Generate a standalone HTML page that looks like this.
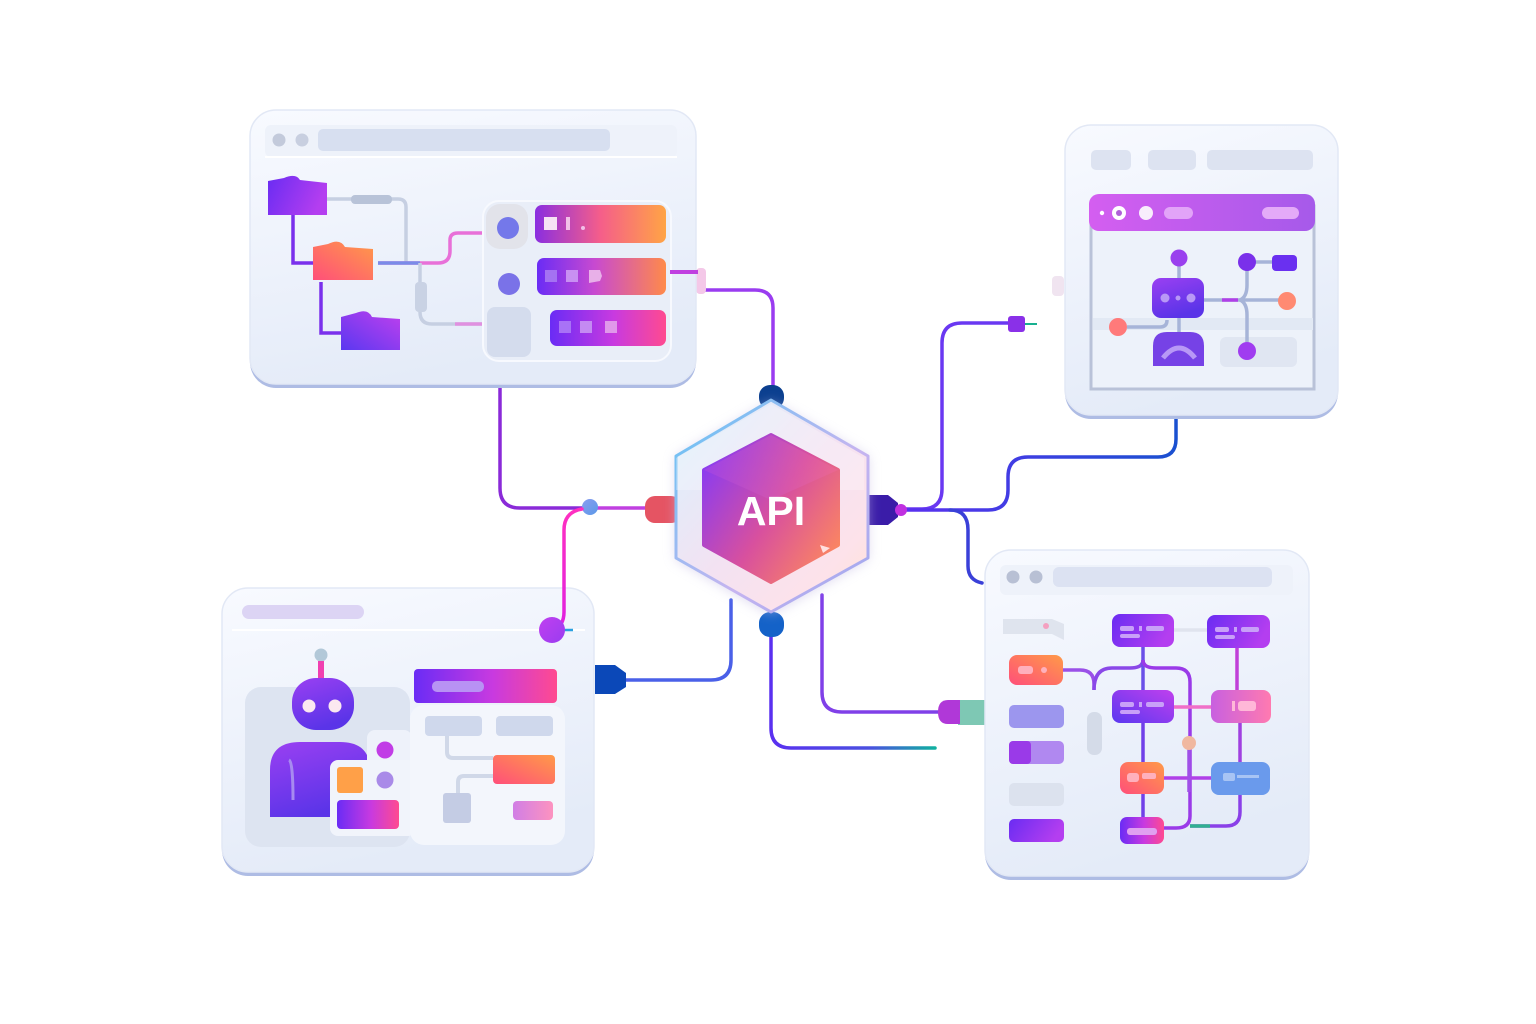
<!DOCTYPE html>
<html><head><meta charset="utf-8"><style>
html,body{margin:0;padding:0;background:#fff;}
svg{display:block;}
</style></head><body>
<svg width="1536" height="1024" viewBox="0 0 1536 1024" xmlns="http://www.w3.org/2000/svg">
<defs>
  <linearGradient id="panel" x1="0" y1="0" x2="0.3" y2="1">
    <stop offset="0" stop-color="#f8faff"/><stop offset="1" stop-color="#e4ebf8"/>
  </linearGradient>
  <linearGradient id="gPurp" x1="0" y1="0" x2="1" y2="0.3">
    <stop offset="0" stop-color="#6a2cf2"/><stop offset="1" stop-color="#b43ef0"/>
  </linearGradient>
  <linearGradient id="gPurpV" x1="0" y1="1" x2="1" y2="0">
    <stop offset="0" stop-color="#5a38f0"/><stop offset="1" stop-color="#c040ee"/>
  </linearGradient>
  <linearGradient id="gOrange" x1="0" y1="1" x2="1" y2="0">
    <stop offset="0" stop-color="#ff4f7a"/><stop offset="1" stop-color="#ff9a48"/>
  </linearGradient>
  <linearGradient id="gBar1" x1="0" y1="0" x2="1" y2="0">
    <stop offset="0" stop-color="#8a2ee0"/><stop offset="0.5" stop-color="#f55e8a"/><stop offset="1" stop-color="#ffa445"/>
  </linearGradient>
  <linearGradient id="gBar2" x1="0" y1="0" x2="1" y2="0">
    <stop offset="0" stop-color="#6a2cf5"/><stop offset="0.45" stop-color="#c84ad0"/><stop offset="1" stop-color="#ff8a4a"/>
  </linearGradient>
  <linearGradient id="gBar3" x1="0" y1="0" x2="1" y2="0">
    <stop offset="0" stop-color="#6a2cf5"/><stop offset="0.55" stop-color="#c83ae0"/><stop offset="1" stop-color="#ff4a90"/>
  </linearGradient>
  <linearGradient id="gHead" x1="0" y1="0" x2="1" y2="0">
    <stop offset="0" stop-color="#d45ef0"/><stop offset="1" stop-color="#a65aea"/>
  </linearGradient>
  <linearGradient id="gRobot" x1="0" y1="0" x2="0.4" y2="1">
    <stop offset="0" stop-color="#9a40f2"/><stop offset="1" stop-color="#5a34e8"/>
  </linearGradient>
  <linearGradient id="gHexOuter" x1="0" y1="0" x2="1" y2="1">
    <stop offset="0" stop-color="#d9f1fd"/><stop offset="0.5" stop-color="#f3e2f2"/><stop offset="0.8" stop-color="#fde2ea"/><stop offset="1" stop-color="#ffe4d2"/>
  </linearGradient>
  <linearGradient id="gHexStroke" x1="0" y1="0" x2="1" y2="1">
    <stop offset="0" stop-color="#5fc4f4"/><stop offset="0.6" stop-color="#c6b4f0"/><stop offset="1" stop-color="#9aa6ee"/>
  </linearGradient>
  <linearGradient id="gHexInner" x1="0" y1="0.2" x2="1" y2="0.9">
    <stop offset="0" stop-color="#8a3cf0"/><stop offset="0.5" stop-color="#d8509e"/><stop offset="1" stop-color="#ff8c5a"/>
  </linearGradient>
  <linearGradient id="gHexTop" x1="0" y1="0" x2="1" y2="0">
    <stop offset="0" stop-color="#b24ae0"/><stop offset="1" stop-color="#f06a9c"/>
  </linearGradient>
  <linearGradient id="gLineBlue" x1="0" y1="0" x2="1" y2="0">
    <stop offset="0" stop-color="#5a30f0"/><stop offset="1" stop-color="#1a50d0"/>
  </linearGradient>
  <linearGradient id="gTeal" x1="0" y1="0" x2="1" y2="0">
    <stop offset="0" stop-color="#5a30f0"/><stop offset="0.6" stop-color="#4a50e0"/><stop offset="1" stop-color="#10b0a0"/>
  </linearGradient>
  <linearGradient id="gMag" x1="0" y1="0" x2="0" y2="1">
    <stop offset="0" stop-color="#ff30c0"/><stop offset="1" stop-color="#e020e0"/>
  </linearGradient>
  <linearGradient id="gBlueNode" x1="0" y1="0" x2="1" y2="1">
    <stop offset="0" stop-color="#8a9cf0"/><stop offset="1" stop-color="#5a9ae8"/>
  </linearGradient>
  <linearGradient id="gPink" x1="0" y1="0" x2="1" y2="0">
    <stop offset="0" stop-color="#c860e0"/><stop offset="1" stop-color="#ff7ab0"/>
  </linearGradient>
  <linearGradient id="gNode" x1="0" y1="0" x2="1" y2="1">
    <stop offset="0" stop-color="#c040f0"/><stop offset="1" stop-color="#9a3cf0"/>
  </linearGradient>
  <filter id="sh" x="-10%" y="-10%" width="120%" height="130%">
    <feGaussianBlur stdDeviation="6"/>
  </filter>
</defs>

<!-- ================= CONNECTORS ================= -->
<g fill="none" stroke-width="3.5" stroke-linecap="round">
  <path d="M700,290 H755 Q773,290 773,308 V390" stroke="#9a3cf0"/>
  <path d="M500,388 V488 Q500,508 520,508 H590" stroke="#8a2ad8"/>
  <path d="M590,508 H648" stroke="#c040e0"/>
  <path d="M905,509 H922 Q942,509 942,489 V343 Q942,323 962,323 H1012" stroke="#6a38f2"/>
  <path d="M905,510 H988 Q1008,510 1008,490 V477 Q1008,457 1028,457 H1158 Q1176,457 1176,439 V418" stroke="url(#gLineBlue)"/>
  <path d="M950,510 Q968,510 968,530 V566 Q968,580 982,583" stroke="#3a40d8"/>
  <path d="M731,600 V660 Q731,680 711,680 H624" stroke="#4a60e8"/>
  <path d="M771,634 V728 Q771,748 791,748 H935" stroke="url(#gTeal)"/>
  <path d="M822,595 V692 Q822,712 842,712 H945" stroke="#8040e8"/>
</g>
<circle cx="590" cy="507" r="8" fill="url(#gBlueNode)"/>
<rect x="1008" y="316" width="17" height="16" rx="3" fill="#8a30e8"/>
<path d="M1025,324 H1037" stroke="#18b090" stroke-width="2"/>
<rect x="696" y="268" width="10" height="26" rx="4" fill="#f4c8e8"/>
<path d="M958,700 H985 V725 H958 Z" fill="#7ec8b4"/>
<path d="M960,700 H948 Q938,700 938,712 Q938,724 948,724 H960 Z" fill="#b038d8"/>
<rect x="1052" y="276" width="12" height="20" rx="4" fill="#f0e4f0"/>

<!-- ================= PANEL 1 ================= -->
<g>
  <rect x="250" y="114" width="446" height="274" rx="26" fill="#aebce4"/>
  <rect x="250" y="110" width="446" height="274" rx="26" fill="url(#panel)" stroke="#e2e8f5" stroke-width="1.5"/>
  <rect x="265" y="125" width="412" height="32" rx="6" fill="#eef2fa"/>
  <line x1="265" y1="157" x2="677" y2="157" stroke="#ffffff" stroke-width="2"/>
  <circle cx="279" cy="140" r="6.5" fill="#c3cadb"/>
  <circle cx="302" cy="140" r="6.5" fill="#c8cfe0"/>
  <rect x="318" y="129" width="292" height="22" rx="5" fill="#d7dff0"/>

  <g fill="none" stroke-width="3.5">
    <path d="M293,215 V263 H313" stroke="#7a30ec"/>
    <path d="M321,282 V333 H341" stroke="#7a30ec"/>
    <path d="M327,199 H398 Q406,199 406,207 V263" stroke="#c6cfe2"/>
    <path d="M378,263 H438 Q450,263 450,251 V240 Q450,233 458,233 H482" stroke="#e870d8"/>
    <path d="M378,263 H420" stroke="#7a8ce8"/>
    <path d="M420,263 V312 Q420,324 432,324 H482" stroke="#c6cfe2"/>
    <path d="M455,324 H482" stroke="#e090e0"/>
  </g>
  <rect x="351" y="195" width="41" height="9" rx="4" fill="#b8c3d8"/>
  <rect x="415" y="282" width="12" height="30" rx="4" fill="#c9d2e4"/>

  <path d="M268,181 L284,178 Q296,173 300,180 L327,183 V215 H268 Z" fill="url(#gPurp)"/>
  <path d="M313,247 L328,244 Q340,238 345,247 L373,249 V280 H313 Z" fill="url(#gOrange)"/>
  <path d="M341,317 L356,313 Q368,308 372,317 L400,319 V350 H341 Z" fill="url(#gPurpV)"/>

  <rect x="483" y="201" width="188" height="160" rx="16" fill="#e9eef8" stroke="#f7f9fe" stroke-width="2"/>
  <rect x="486" y="204" width="42" height="45" rx="14" fill="#e2e3ea"/>
  <rect x="487" y="307" width="44" height="50" rx="8" fill="#d4dced"/>
  <circle cx="508" cy="228" r="11" fill="#7478ea"/>
  <circle cx="509" cy="284" r="11" fill="#7a72e8"/>
  <rect x="535" y="205" width="131" height="38" rx="7" fill="url(#gBar1)"/>
  <rect x="537" y="258" width="129" height="37" rx="7" fill="url(#gBar2)"/>
  <rect x="550" y="310" width="116" height="36" rx="7" fill="url(#gBar3)"/>
  <rect x="544" y="217" width="13" height="13" fill="#f6e2f4"/>
  <rect x="566" y="217" width="4" height="13" fill="#f2c0e8"/>
  <circle cx="583" cy="228" r="2" fill="#f2c0e8"/>
  <rect x="545" y="270" width="12" height="12" fill="#a472f2"/>
  <rect x="566" y="270" width="12" height="12" fill="#c890f2"/>
  <path d="M589,270 H600 L602,276 L600,281 L589,283 Z" fill="#e8b0e8"/>
  <rect x="559" y="321" width="12" height="12" fill="#a872f6"/>
  <rect x="580" y="321" width="12" height="12" fill="#c48af2"/>
  <rect x="605" y="321" width="12" height="12" fill="#e098ea"/>
  <path d="M670,272 H698" stroke="#c040e0" stroke-width="4"/>
</g>

<!-- ================= PANEL 2 ================= -->
<g>
  <rect x="1065" y="129" width="273" height="290" rx="26" fill="#aebce4"/>
  <rect x="1065" y="125" width="273" height="290" rx="26" fill="url(#panel)" stroke="#e2e8f5" stroke-width="1.5"/>
  <rect x="1091" y="150" width="40" height="20" rx="5" fill="#dde3f1"/>
  <rect x="1148" y="150" width="48" height="20" rx="5" fill="#dde3f1"/>
  <rect x="1207" y="150" width="106" height="20" rx="5" fill="#dde3f1"/>
  <rect x="1091" y="206" width="223" height="183" fill="#edf2fa" stroke="#b9c2d8" stroke-width="3"/>
  <rect x="1093" y="318" width="220" height="12" fill="#e2e9f4"/>
  <rect x="1220" y="337" width="77" height="30" rx="6" fill="#e0e6f2"/>
  <rect x="1089" y="194" width="226" height="37" rx="10" fill="url(#gHead)"/>
  <circle cx="1102" cy="213" r="2.2" fill="#fff"/>
  <circle cx="1119" cy="213" r="7" fill="#fff"/>
  <circle cx="1119" cy="213" r="3" fill="#b060d8"/>
  <circle cx="1146" cy="213" r="7" fill="#f8eefc"/>
  <rect x="1164" y="207" width="29" height="12" rx="6" fill="#e2a4f8"/>
  <rect x="1262" y="207" width="37" height="12" rx="6" fill="#e4aaf8"/>
  <g fill="none" stroke-width="3.5" stroke="#a6b4d8">
    <path d="M1179,266 V280"/>
    <path d="M1179,318 V332"/>
    <path d="M1127,327 H1160 Q1167,327 1167,320"/>
    <path d="M1204,300 H1240"/>
    <path d="M1240,300 Q1247,297 1247,285 V268"/>
    <path d="M1240,300 H1279"/>
    <path d="M1240,300 Q1247,303 1247,315 V342"/>
    <path d="M1255,262 H1272"/>
  </g>
  <path d="M1222,300 H1238" stroke="#b040e8" stroke-width="3.5"/>
  <circle cx="1179" cy="258" r="8.5" fill="#9a40ee"/>
  <rect x="1152" y="278" width="52" height="40" rx="9" fill="url(#gRobot)"/>
  <circle cx="1165" cy="298" r="4.5" fill="#b898f6"/>
  <circle cx="1178" cy="298" r="2.5" fill="#b898f6"/>
  <circle cx="1191" cy="298" r="4.5" fill="#b898f6"/>
  <path d="M1153,366 V346 Q1153,332 1167,332 H1190 Q1204,332 1204,346 V366 Z" fill="#7642e6"/>
  <path d="M1163,358 Q1179,338 1195,358" stroke="#b898f6" stroke-width="5" fill="none"/>
  <circle cx="1118" cy="327" r="9" fill="#ff7a7a"/>
  <circle cx="1247" cy="262" r="9" fill="#7a30ea"/>
  <rect x="1272" y="255" width="25" height="16" rx="4" fill="#6a30f0"/>
  <circle cx="1287" cy="301" r="9" fill="#ff8a72"/>
  <circle cx="1247" cy="351" r="9" fill="#a03cf0"/>
</g>

<!-- ================= PANEL 3 ================= -->
<g>
  <rect x="222" y="592" width="372" height="284" rx="26" fill="#aebce4"/>
  <rect x="222" y="588" width="372" height="284" rx="26" fill="url(#panel)" stroke="#e2e8f5" stroke-width="1.5"/>
  <rect x="242" y="605" width="122" height="14" rx="7" fill="#dcd4f4"/>
  <line x1="232" y1="630" x2="585" y2="630" stroke="#ffffff" stroke-width="2"/>
  <rect x="245" y="687" width="165" height="160" rx="16" fill="#dde4f1"/>
  <circle cx="321" cy="655" r="6.5" fill="#b2c8d8"/>
  <rect x="318" y="661" width="6" height="18" fill="#f040b0"/>
  <rect x="292" y="678" width="62" height="52" rx="24" fill="url(#gRobot)"/>
  <circle cx="309" cy="706" r="6.5" fill="#fbe8f0"/>
  <circle cx="335" cy="706" r="6.5" fill="#fbe8f0"/>
  <path d="M270,817 V770 Q270,742 300,742 H340 Q370,742 370,770 V817 Z" fill="url(#gRobot)"/>
  <path d="M289,760 Q293,762 293,800" stroke="#a78af0" stroke-width="3" fill="none"/>
  <rect x="367" y="730" width="45" height="50" rx="8" fill="#eef2fa"/>
  <rect x="330" y="760" width="86" height="76" rx="8" fill="#f1f4fb"/>
  <circle cx="385" cy="750" r="8.5" fill="#c13ce6"/>
  <circle cx="385" cy="780" r="8.5" fill="#a98ae8"/>
  <rect x="337" y="767" width="26" height="26" rx="3" fill="#ffa048"/>
  <rect x="337" y="800" width="62" height="29" rx="4" fill="url(#gBar3)"/>
  <rect x="410" y="705" width="155" height="140" rx="14" fill="#f3f6fc"/>
  <rect x="414" y="669" width="143" height="34" rx="4" fill="url(#gBar3)"/>
  <rect x="432" y="681" width="52" height="11" rx="5" fill="#b892f4"/>
  <rect x="425" y="716" width="57" height="20" rx="4" fill="#cfd8ec"/>
  <rect x="496" y="716" width="57" height="20" rx="4" fill="#cfd8ec"/>
  <g fill="none" stroke="#d0d8e8" stroke-width="4">
    <path d="M447,736 V752 Q447,758 453,758 H493"/>
    <path d="M493,776 H464 Q458,776 458,782 V795"/>
  </g>
  <rect x="493" y="755" width="62" height="29" rx="4" fill="url(#gOrange)"/>
  <rect x="443" y="793" width="28" height="30" rx="3" fill="#c4cce4"/>
  <rect x="513" y="801" width="40" height="19" rx="4" fill="url(#gPink)" opacity="0.8"/>
</g>
<!-- magenta line on top of panel 3 -->
<path d="M582,509 Q564,512 564,530 V612 Q564,626 553,630" stroke="url(#gMag)" stroke-width="3.5" fill="none" stroke-linecap="round"/>
<path d="M562,630 H573" stroke="#2aa0e0" stroke-width="2.5"/>
<circle cx="552" cy="630" r="13" fill="url(#gNode)"/>
<path d="M595,665 H615 L626,673 V687 L615,694 H595 Z" fill="#0b48b8"/>

<!-- ================= PANEL 4 ================= -->
<g>
  <rect x="985" y="554" width="324" height="326" rx="26" fill="#aebce4"/>
  <rect x="985" y="550" width="324" height="326" rx="26" fill="url(#panel)" stroke="#e2e8f5" stroke-width="1.5"/>
  <rect x="1000" y="565" width="293" height="30" rx="6" fill="#eef2fa"/>
  <circle cx="1013" cy="577" r="6.5" fill="#b8c0d4"/>
  <circle cx="1036" cy="577" r="6.5" fill="#b8c0d4"/>
  <rect x="1053" y="567" width="219" height="20" rx="6" fill="#dce2f2"/>
  <path d="M1003,619 H1052 L1064,624 V640 L1052,634 H1003 Z" fill="#dfe4ee"/>
  <circle cx="1046" cy="626" r="3" fill="#f4a0c0"/>
  <rect x="1009" y="655" width="54" height="30" rx="8" fill="url(#gOrange)"/>
  <rect x="1018" y="666" width="15" height="8" rx="3" fill="#ffb0bc"/>
  <circle cx="1044" cy="670" r="3" fill="#ffb0bc"/>
  <rect x="1009" y="705" width="55" height="23" rx="5" fill="#9c96ee"/>
  <rect x="1009" y="741" width="55" height="23" rx="5" fill="#b088f0"/>
  <rect x="1009" y="741" width="22" height="23" rx="4" fill="#9a3ae8"/>
  <rect x="1009" y="783" width="55" height="23" rx="5" fill="#dce2ee"/>
  <rect x="1009" y="819" width="55" height="23" rx="5" fill="url(#gPurp)"/>
  <g fill="none" stroke-width="3.5">
    <path d="M1173,630 H1207" stroke="#e0e4ee"/>
    <path d="M1063,670 H1080 Q1094,670 1094,684 V690" stroke="#9a50e8"/>
    <path d="M1094,690 Q1094,668 1112,668 H1130 Q1143,668 1143,660" stroke="#8a48e8"/>
    <path d="M1143,646 V690" stroke="#6a50e8"/>
    <path d="M1143,660 Q1143,668 1156,668 H1176 Q1190,668 1190,682 V816 Q1190,828 1176,828 H1163" stroke="#9a3ae8"/>
    <path d="M1173,707 H1211" stroke="#f070c8"/>
    <path d="M1237,647 V690" stroke="#c040d8"/>
    <path d="M1143,722 V762" stroke="#7040e8"/>
    <path d="M1143,793 V817" stroke="#7040e8"/>
    <path d="M1163,778 H1211" stroke="#b040e8"/>
    <path d="M1240,722 V762" stroke="#a040e0"/>
    <path d="M1189,748 V792" stroke="#a050e8"/>
    <path d="M1240,795 V812 Q1240,826 1226,826 H1190" stroke="#8a40e8"/>
    <path d="M1190,826 H1210" stroke="#30b090"/>
  </g>
  <rect x="1087" y="712" width="15" height="43" rx="7" fill="#d4dbe8"/>
  <circle cx="1189" cy="743" r="7" fill="#f0b8a0"/>
  <rect x="1112" y="614" width="62" height="33" rx="8" fill="url(#gPurp)"/>
  <rect x="1207" y="615" width="63" height="33" rx="8" fill="url(#gPurp)"/>
  <rect x="1112" y="690" width="62" height="33" rx="8" fill="url(#gPurpV)"/>
  <rect x="1211" y="690" width="60" height="33" rx="8" fill="url(#gPink)"/>
  <rect x="1120" y="762" width="44" height="32" rx="8" fill="url(#gOrange)"/>
  <rect x="1211" y="762" width="59" height="33" rx="8" fill="#6a9aec"/>
  <rect x="1120" y="817" width="44" height="27" rx="7" fill="url(#gBar3)"/>
  <g fill="#c8a0f8">
    <rect x="1120" y="626" width="14" height="5" rx="2"/><rect x="1139" y="626" width="3" height="5"/><rect x="1146" y="626" width="18" height="5" rx="2"/><rect x="1120" y="634" width="20" height="4" rx="2"/>
    <rect x="1215" y="627" width="14" height="5" rx="2"/><rect x="1234" y="627" width="3" height="5"/><rect x="1241" y="627" width="18" height="5" rx="2"/><rect x="1215" y="635" width="20" height="4" rx="2"/>
    <rect x="1120" y="702" width="14" height="5" rx="2"/><rect x="1139" y="702" width="3" height="5"/><rect x="1146" y="702" width="18" height="5" rx="2"/><rect x="1120" y="710" width="20" height="4" rx="2"/>
  </g>
  <rect x="1232" y="701" width="3" height="10" fill="#ffb8d8"/>
  <rect x="1238" y="701" width="18" height="10" rx="3" fill="#ffb8d8"/>
  <rect x="1127" y="773" width="12" height="9" rx="3" fill="#ffb0bc"/>
  <rect x="1142" y="773" width="14" height="6" rx="2" fill="#ffb0bc"/>
  <rect x="1223" y="773" width="12" height="8" rx="2" fill="#a8c4f4"/>
  <rect x="1237" y="775" width="22" height="3" fill="#a8c4f4"/>
  <rect x="1127" y="828" width="30" height="7" rx="3" fill="#e0a0f0"/>
</g>

<!-- ================= API HUB ================= -->
<g>
  <rect x="759" y="385" width="25" height="24" rx="11" fill="#0b3f8f"/>
  <rect x="759" y="612" width="25" height="25" rx="11" fill="#1462c8"/>
  <rect x="645" y="496" width="36" height="27" rx="10" fill="#e55463"/>
  <path d="M866,495 H888 L898,503 V517 L888,525 H866 Z" fill="#3a1ca8"/>
  <circle cx="901" cy="510" r="6" fill="#c030e0"/>
  <polygon points="771,402 868,457 868,559 771,614 676,559 676,457" fill="#c4bce4" filter="url(#sh)" opacity="0.6"/>
  <polygon points="771,400 868,456 868,558 771,612 676,558 676,456" fill="url(#gHexOuter)" stroke="url(#gHexStroke)" stroke-width="3" stroke-linejoin="round"/>
  <polygon points="771,404 864,458 864,490 676,490 676,458" fill="#ffffff" opacity="0.25"/>
  <polygon points="771,435 838,470 838,545 771,582 704,545 704,470" fill="url(#gHexInner)" stroke="url(#gHexInner)" stroke-width="4" stroke-linejoin="round"/>
  <polygon points="771,435 838,470 771,500 704,470" fill="url(#gHexTop)" opacity="0.45"/>
  <path d="M820,545 L830,548 L823,553 Z" fill="#ffe0e0"/>
  <text x="771" y="525" text-anchor="middle" font-family="Liberation Sans, Arial, sans-serif" font-weight="bold" font-size="41" fill="#ffffff">API</text>
</g>
</svg>
</body></html>
